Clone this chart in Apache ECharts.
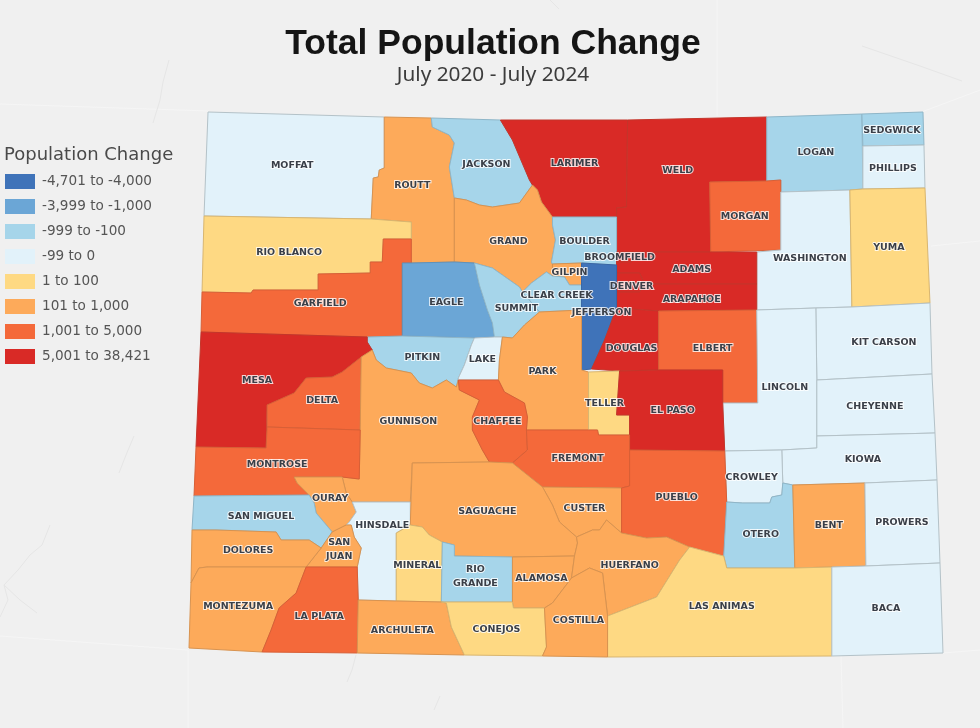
<!DOCTYPE html>
<html>
<head>
<meta charset="utf-8">
<style>html,body{margin:0;padding:0;background:#f0f0f0}#main{width:980px;height:728px}</style>
<script src="https://cdn.jsdelivr.net/npm/echarts@6/dist/echarts.min.js"></script>
</head>
<body>
<div id="main"></div>
<script>
// legend classes, top to bottom
var classLabels = ['-4,701 to -4,000','-3,999 to -1,000','-999 to -100','-99 to 0','1 to 100','101 to 1,000','1,001 to 5,000','5,001 to 38,421'];
var classColors = ['#3f73b9','#6ba6d6','#a6d5ea','#e2f2fa','#fed983','#fdaa5a','#f4693a','#d92a26'];
var classBorders = ['#3a67a5','#5f92bb','#8fb6c8','#b4c2c8','#d9b670','#d89350','#d85f36','#c4352a'];

var countyNames = ['MOFFAT','ROUTT','JACKSON','LARIMER','WELD','LOGAN','SEDGWICK','PHILLIPS','RIO BLANCO','GRAND','BOULDER','MORGAN','WASHINGTON','YUMA','BROOMFIELD','GILPIN','ADAMS','DENVER','ARAPAHOE','GARFIELD','EAGLE','CLEAR CREEK','SUMMIT','JEFFERSON','DOUGLAS','ELBERT','KIT CARSON','PITKIN','LAKE','PARK','LINCOLN','MESA','DELTA','TELLER','EL PASO','CHEYENNE','GUNNISON','CHAFFEE','KIOWA','MONTROSE','FREMONT','CROWLEY','OURAY','SAN MIGUEL','HINSDALE','CUSTER','SAGUACHE','PUEBLO','OTERO','BENT','PROWERS','SAN\nJUAN','DOLORES','MINERAL','RIO\nGRANDE','ALAMOSA','HUERFANO','LAS ANIMAS','MONTEZUMA','LA PLATA','ARCHULETA','CONEJOS','COSTILLA','BACA'];
var countyClasses = [3,5,2,7,7,2,2,3,4,5,2,6,3,4,7,5,7,7,7,6,1,2,2,0,7,6,3,2,3,5,3,7,6,4,7,3,5,6,3,6,6,3,5,2,3,5,5,6,2,5,3,5,5,4,2,5,5,4,5,6,5,4,5,3];

// county outlines, in page pixels
var countyShapes = {
  'MOFFAT':[[209,112],[385,117],[385,168],[380,170],[379,177],[374,178],[372,219],[205,216]],
  'ROUTT':[[385,117],[432,118],[433,127],[450,135],[455,143],[450,167],[455,198],[455,262],[412,263],[412,222],[372,219],[374,178],[379,177],[380,170],[385,168]],
  'JACKSON':[[432,118],[501,120],[513,140],[530,180],[533,185],[520,203],[493,207],[480,205],[467,200],[455,198],[450,167],[455,143],[450,135],[433,127]],
  'LARIMER':[[501,120],[628,120],[627,207],[617,208],[617,217],[553,217],[542,202],[538,190],[533,185],[530,180],[513,140]],
  'WELD':[[628,120],[767,117],[767,181],[710,182],[711,252],[617,252],[617,208],[627,207]],
  'LOGAN':[[767,117],[862,114],[863,189],[850,190],[781,192],[781,180],[767,181]],
  'SEDGWICK':[[862,114],[923,112],[924,145],[863,146]],
  'PHILLIPS':[[863,146],[924,145],[925,188],[863,189]],
  'RIO BLANCO':[[205,216],[372,219],[412,222],[412,239],[384,239],[383,262],[371,262],[371,273],[319,274],[319,290],[254,290],[252,293],[203,292]],
  'GRAND':[[455,198],[467,200],[480,205],[493,207],[520,203],[533,185],[538,190],[542,202],[553,217],[553,225],[556,240],[552,262],[553,264],[553,276],[547,272],[532,283],[523,292],[520,287],[503,275],[493,268],[475,263],[455,262]],
  'BOULDER':[[553,217],[617,217],[617,265],[582,263],[553,264],[552,262],[556,240],[553,225]],
  'MORGAN':[[710,182],[767,181],[781,180],[781,250],[711,252]],
  'WASHINGTON':[[781,192],[850,190],[852,307],[816,308],[757,310],[757,252],[781,250]],
  'YUMA':[[850,190],[863,189],[925,188],[930,303],[852,307]],
  'BROOMFIELD':[[617,252],[632,252],[632,262],[617,262]],
  'GILPIN':[[553,264],[582,263],[582,285],[570,285],[565,277],[553,276]],
  'ADAMS':[[617,262],[632,262],[632,252],[711,252],[757,252],[757,284],[645,284],[640,273],[617,273]],
  'DENVER':[[617,273],[640,273],[645,284],[640,292],[617,292]],
  'ARAPAHOE':[[617,292],[640,292],[645,284],[757,284],[757,310],[659,311],[617,308]],
  'GARFIELD':[[203,292],[252,293],[254,290],[319,290],[319,274],[371,273],[371,262],[383,262],[384,239],[412,239],[412,263],[403,263],[403,336],[368,337],[202,332]],
  'EAGLE':[[403,263],[412,263],[455,262],[475,263],[480,285],[488,310],[493,323],[495,337],[475,338],[403,336]],
  'CLEAR CREEK':[[547,272],[553,276],[565,277],[570,285],[582,285],[582,310],[540,312],[523,292],[532,283]],
  'SUMMIT':[[475,263],[493,268],[503,275],[520,287],[523,292],[540,312],[525,325],[513,338],[503,337],[495,337],[493,323],[488,310],[480,285]],
  'JEFFERSON':[[582,263],[617,265],[617,308],[605,340],[592,369],[582,370]],
  'DOUGLAS':[[617,308],[659,311],[659,370],[620,371],[592,369],[605,340]],
  'ELBERT':[[659,311],[757,310],[758,403],[723,403],[723,370],[659,370]],
  'KIT CARSON':[[816,308],[852,307],[930,303],[932,374],[817,380]],
  'PITKIN':[[368,337],[403,336],[475,338],[472,345],[465,365],[459,378],[457,387],[447,380],[433,388],[420,383],[412,373],[387,368],[377,360],[373,350],[368,342]],
  'LAKE':[[475,338],[495,337],[503,337],[500,360],[499,380],[459,380],[459,378],[465,365],[472,345]],
  'PARK':[[513,338],[525,325],[540,312],[582,310],[582,370],[589,372],[589,430],[527,430],[528,417],[525,403],[505,392],[499,380],[500,360],[503,337]],
  'LINCOLN':[[757,310],[816,308],[817,380],[817,448],[782,450],[725,451],[723,403],[758,403]],
  'MESA':[[202,332],[368,337],[368,342],[373,350],[362,357],[343,372],[333,377],[307,378],[295,393],[268,405],[267,448],[197,447]],
  'DELTA':[[268,405],[295,393],[307,378],[333,377],[343,372],[362,357],[361,430],[268,427]],
  'TELLER':[[589,372],[620,371],[617,415],[630,415],[630,435],[599,435],[598,430],[589,430]],
  'EL PASO':[[620,371],[659,370],[723,370],[723,403],[725,451],[630,450],[630,415],[617,415]],
  'CHEYENNE':[[817,380],[932,374],[935,433],[817,436]],
  'GUNNISON':[[362,357],[373,350],[377,360],[387,368],[412,373],[420,383],[433,388],[447,380],[457,387],[459,380],[460,390],[480,400],[473,417],[473,430],[483,450],[490,462],[413,463],[411,502],[353,502],[347,493],[343,477],[360,479],[361,430]],
  'CHAFFEE':[[459,380],[499,380],[505,392],[525,403],[528,417],[527,430],[528,450],[513,463],[490,462],[483,450],[473,430],[473,417],[480,400],[460,390]],
  'KIOWA':[[817,436],[935,433],[937,480],[865,483],[793,485],[783,483],[782,450],[817,448]],
  'MONTROSE':[[197,447],[267,448],[268,427],[361,430],[360,479],[343,477],[295,477],[298,483],[310,495],[195,496]],
  'FREMONT':[[527,430],[589,430],[598,430],[599,435],[630,435],[630,486],[622,488],[543,487],[513,463],[528,450]],
  'CROWLEY':[[725,451],[782,450],[783,483],[782,495],[772,497],[770,503],[743,503],[727,502]],
  'OURAY':[[295,477],[343,477],[347,493],[353,502],[357,512],[350,522],[347,525],[333,532],[317,513],[315,503],[310,495],[298,483]],
  'SAN MIGUEL':[[195,496],[310,495],[315,503],[317,513],[333,532],[322,548],[310,540],[282,540],[277,532],[217,530],[193,530]],
  'HINSDALE':[[353,502],[411,502],[411,525],[397,533],[397,597],[397,601],[359,600],[358,567],[362,548],[355,537],[352,525],[347,525],[350,522],[357,512]],
  'CUSTER':[[543,487],[622,488],[622,533],[607,520],[600,530],[593,530],[577,537],[560,522],[553,505]],
  'SAGUACHE':[[413,463],[490,462],[513,463],[543,487],[553,505],[560,522],[577,537],[578,543],[575,556],[513,557],[455,556],[455,545],[443,542],[430,535],[423,527],[411,525]],
  'PUEBLO':[[630,450],[725,451],[727,502],[724,556],[690,547],[667,537],[647,538],[622,533],[622,488],[630,486]],
  'OTERO':[[727,502],[743,503],[770,503],[772,497],[782,495],[783,483],[793,485],[795,568],[727,568],[724,556]],
  'BENT':[[793,485],[865,483],[866,566],[795,568]],
  'PROWERS':[[865,483],[937,480],[940,563],[866,566]],
  'SAN\nJUAN':[[333,532],[347,525],[352,525],[355,537],[362,548],[358,567],[307,567],[318,553],[322,548]],
  'DOLORES':[[193,530],[217,530],[277,532],[282,540],[310,540],[322,548],[318,553],[307,567],[208,567],[200,568],[192,583]],
  'MINERAL':[[411,525],[423,527],[430,535],[443,542],[442,602],[397,601],[397,533]],
  'RIO\nGRANDE':[[443,542],[455,545],[455,556],[513,557],[513,602],[442,602]],
  'ALAMOSA':[[513,557],[575,556],[572,578],[553,603],[545,608],[514,608],[513,602]],
  'HUERFANO':[[577,537],[593,530],[600,530],[607,520],[622,533],[647,538],[667,537],[690,547],[680,560],[657,597],[608,616],[603,573],[590,568],[572,578],[575,556],[578,543]],
  'LAS ANIMAS':[[690,547],[724,556],[727,568],[795,568],[832,567],[832,656],[608,657],[608,616],[657,597],[680,560]],
  'MONTEZUMA':[[192,583],[200,568],[208,567],[307,567],[297,593],[280,608],[272,630],[263,652],[190,648]],
  'LA PLATA':[[307,567],[358,567],[359,600],[358,653],[263,652],[272,630],[280,608],[297,593]],
  'ARCHULETA':[[359,600],[397,601],[442,602],[447,603],[452,627],[465,655],[358,653]],
  'CONEJOS':[[442,602],[513,602],[514,608],[545,608],[547,647],[543,656],[465,655],[452,627],[447,603]],
  'COSTILLA':[[572,578],[590,568],[603,573],[608,616],[608,657],[543,656],[547,647],[545,608],[553,603]],
  'BACA':[[832,567],[866,566],[940,563],[943,653],[832,656]]
};

// where each county name sits
var labelAnchors = {
  'MOFFAT':[293,165],'ROUTT':[413,185],'JACKSON':[487,164],'LARIMER':[575,163],'WELD':[678,170],'LOGAN':[816,152],'SEDGWICK':[892,130],'PHILLIPS':[893,168],'RIO BLANCO':[290,252],'GRAND':[509,241],'BOULDER':[585,241],'MORGAN':[745,216],'WASHINGTON':[810,258],'YUMA':[889,247],'BROOMFIELD':[620,257],'GILPIN':[570,272],'ADAMS':[692,269],'DENVER':[632,286],'ARAPAHOE':[692,299],'GARFIELD':[321,303],'EAGLE':[447,302],'CLEAR CREEK':[557,295],'SUMMIT':[517,308],'JEFFERSON':[602,312],'DOUGLAS':[632,348],'ELBERT':[713,348],'KIT CARSON':[884,342],'PITKIN':[423,357],'LAKE':[483,359],'PARK':[543,371],'LINCOLN':[785,387],'MESA':[258,380],'DELTA':[323,400],'TELLER':[605,403],'EL PASO':[673,410],'CHEYENNE':[875,406],'GUNNISON':[409,421],'CHAFFEE':[498,421],'KIOWA':[863,459],'MONTROSE':[278,464],'FREMONT':[578,458],'CROWLEY':[752,477],'OURAY':[331,498],'SAN MIGUEL':[262,516],'HINSDALE':[383,525],'CUSTER':[585,508],'SAGUACHE':[488,511],'PUEBLO':[677,497],'OTERO':[761,534],'BENT':[829,525],'PROWERS':[902,522],'SAN\nJUAN':[340,549],'DOLORES':[249,550],'MINERAL':[418,565],'RIO\nGRANDE':[476,576],'ALAMOSA':[542,578],'HUERFANO':[630,565],'LAS ANIMAS':[722,606],'MONTEZUMA':[239,606],'LA PLATA':[320,616],'ARCHULETA':[403,630],'CONEJOS':[497,629],'COSTILLA':[579,620],'BACA':[886,608]
};

// faint basemap behind the state: neighbouring borders and rivers
var borderLines = [
  [[0,104],[209,111]],
  [[717,0],[717,116]],
  [[924,111],[980,90]],
  [[188,650],[0,636]],
  [[188,650],[188,728]],
  [[943,653],[980,650]],
  [[841,656],[843,728]],
  [[931,246],[980,241]]
];
var riverLines = [
  [[169,60],[163,82],[160,100],[153,123]],
  [[862,46],[920,66],[962,81]],
  [[550,0],[559,9]],
  [[356,655],[352,670],[347,682]],
  [[440,696],[434,710]],
  [[134,436],[126,455],[119,473]],
  [[50,525],[42,545],[30,555],[18,570],[4,585],[8,600],[0,617]],
  [[4,585],[20,600],[37,613]]
];

var features = countyNames.map(function(name){
  var ring = countyShapes[name].concat([countyShapes[name][0]]);
  return {
    type:'Feature',
    properties:{name:name, cp:labelAnchors[name]},
    geometry:{type:'Polygon', coordinates:[ring]}
  };
});
echarts.registerMap('colorado', {type:'FeatureCollection', features:features});

var chart = echarts.init(document.getElementById('main'));

var pieces = classLabels.map(function(label, i){
  return {value:i, label:label, color:classColors[i]};
});
var seriesData = countyNames.map(function(name, i){
  return {
    name:name,
    value:countyClasses[i],
    itemStyle:{borderColor:classBorders[countyClasses[i]]}
  };
});

var backdrop = [];
borderLines.forEach(function(pts){
  backdrop.push({type:'polyline', silent:true, shape:{points:pts}, style:{stroke:'#f5f5f5', lineWidth:1, fill:null}});
});
riverLines.forEach(function(pts){
  backdrop.push({type:'polyline', silent:true, shape:{points:pts}, style:{stroke:'#e6e6e6', lineWidth:1, fill:null}});
});

chart.setOption({
  backgroundColor:'#f0f0f0',
  animation:false,
  graphic:backdrop,
  title:[
    {text:'Total Population Change', left:493, top:26, padding:0, textAlign:'center',
     textStyle:{fontFamily:'Liberation Sans', fontWeight:'bold', fontSize:35.5, color:'#151515'}},
    {text:'July 2020 - July 2024', left:493, top:65, padding:0, textAlign:'center',
     textStyle:{fontFamily:'Noto Sans', fontWeight:'normal', fontSize:20.8, color:'#3c3c3c'}},
    {text:'Population Change', left:4, top:146, padding:0,
     textStyle:{fontFamily:'DejaVu Sans', fontWeight:'normal', fontSize:18, color:'#4a4a4a'}}
  ],
  visualMap:{
    type:'piecewise',
    seriesIndex:0,
    pieces:pieces,
    inverse:true,
    orient:'vertical',
    left:5,
    top:174,
    padding:0,
    itemWidth:30,
    itemHeight:15,
    itemGap:10,
    textGap:7,
    itemSymbol:'rect',
    hoverLink:false,
    selectedMode:false,
    textStyle:{fontFamily:'DejaVu Sans', fontSize:13.6, color:'#555'}
  },
  series:[{
    type:'map',
    map:'colorado',
    projection:{project:function(p){return p;}, unproject:function(p){return p;}},
    left:189,
    top:112,
    width:754,
    height:545,
    roam:false,
    selectedMode:false,
    silent:true,
    itemStyle:{borderWidth:1, borderColor:'#a8aeb0'},
    label:{
      show:true,
      fontFamily:'DejaVu Sans',
      fontWeight:'bold',
      fontSize:9.5,
      lineHeight:14,
      offset:[0,1],
      color:'#3a3f48',
      textBorderColor:'rgba(255,255,255,0.8)',
      textBorderWidth:2
    },
    data:seriesData
  }]
});
</script>
</body>
</html>
